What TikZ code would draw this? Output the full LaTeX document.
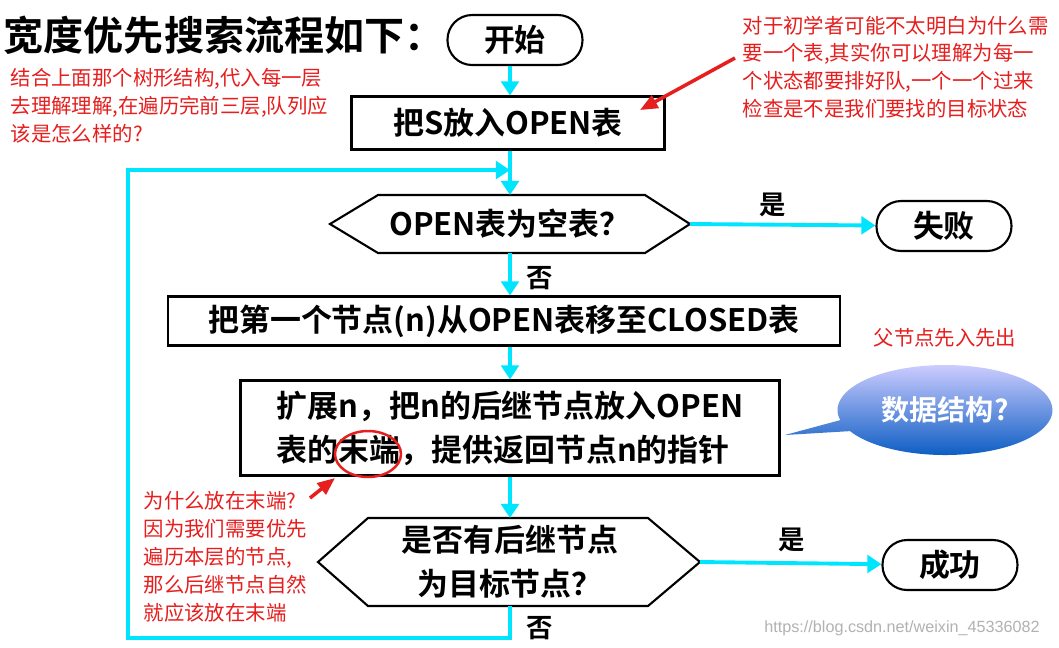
\documentclass[tikz,border=0pt]{standalone}
\usepackage{fontspec}
\setmainfont{Liberation Sans}
\newfontfamily\cjk{Noto Sans CJK SC}
\newfontfamily\cjkb{Noto Sans CJK SC Bold}
\usetikzlibrary{arrows.meta, positioning, shapes.geometric, shapes.callouts, shadings}
\definecolor{flow}{RGB}{0,229,255}
\definecolor{note}{RGB}{230,30,30}
\tikzset{
  stepbox/.style={draw, line width=0.6pt, inner sep=0pt, font=\cjkb\fontsize{8.8}{10}\selectfont},
  endbox/.style={stepbox, rounded corners=7pt, minimum width=135*0.01cm, minimum height=50*0.01cm},
  flowline/.style={draw=flow, line width=1.1pt},
  flowarrow/.style={flowline, -{Triangle[length=4pt,width=5pt]}},
  notetext/.style={text=note, font=\cjk\fontsize{5.8}{7.9}\selectfont, align=left, anchor=north west, inner sep=0pt},
  yesno/.style={font=\cjkb\fontsize{7.5}{8}\selectfont}
}
\begin{document}
\begin{tikzpicture}[x=0.01cm, y=-0.01cm, >=Latex]
    \useasboundingbox[fill=white] (0,0) rectangle (1059,647);

    % title
    \node[anchor=west, inner sep=0pt, font=\cjkb\fontsize{11.4}{12}\selectfont] (title) at (3,35) {宽度优先搜索流程如下：};

    % boxes
    \node[endbox] (start) at (515,40) {开始};
    \node[stepbox, minimum width=313*0.01cm, minimum height=53*0.01cm] (put) at (508,123) {把S放入OPEN表};
    \draw[line width=0.6pt] (330,224) -- (378,195) -- (645,195) -- (690,224) -- (645,253) -- (378,253) -- cycle;
    \node[font=\cjkb\fontsize{8.8}{10}\selectfont] (empty) at (510,224) {OPEN表为空表？};
    \node[endbox] (fail) at (944,226) {失败};
    \node[stepbox, minimum width=672*0.01cm, minimum height=49*0.01cm] (move) at (504,321) {把第一个节点(n)从OPEN表移至CLOSED表};
    \node[stepbox, minimum width=539*0.01cm, minimum height=95*0.01cm, align=left, font=\cjkb\fontsize{8.8}{12.5}\selectfont] (expand) at (510,428) {扩展n，把n的后继节点放入OPEN\\表的末端，提供返回节点n的指针};
    \draw[line width=0.6pt] (318,562) -- (368,518) -- (648,518) -- (700,562) -- (648,606) -- (368,606) -- cycle;
    \node[align=center, font=\cjkb\fontsize{8.8}{12.5}\selectfont] (goal) at (510,562) {是否有后继节点\\为目标节点？};
    \node[endbox] (succ) at (950,565) {成功};

    % connectors
    \coordinate (emptytop) at (510,195);
    \coordinate (emptybot) at (510,253);
    \coordinate (emptyright) at (690,224);
    \coordinate (goaltop) at (510,518);
    \coordinate (goalbot) at (510,606);
    \coordinate (goalright) at (700,562);
    \coordinate (loopin) at (510,170);
    \draw[flowarrow] (emptytop |- start.south) -- (emptytop |- put.north);
    \draw[flowarrow] (emptytop |- put.south) -- (emptytop);
    \draw[flowarrow] (emptyright) -- (fail);
    \draw[flowarrow] (emptybot) -- (emptybot |- move.north);
    \draw[flowarrow] (emptybot |- move.south) -- (emptybot |- expand.north);
    \draw[flowarrow] (goaltop |- expand.south) -- (goaltop);
    \draw[flowarrow] (goalright) -- (succ);
    \draw[flowarrow] (goalbot) -- (510,638) -- (128,638) -- (128,170) -- (loopin);
    \node[yesno] (yes1) at (773,205) {是};
    \node[yesno] (no1) at (540,278) {否};
    \node[yesno] (yes2) at (792,540) {是};
    \node[yesno] (no2) at (540,628) {否};

    % notes
    \node[notetext] (note1) at (10,68) {结合上面那个树形结构,代入每一层\\去理解理解,在遍历完前三层,队列应\\该是怎么样的?};
    \node[notetext] (note2) at (742,15) {对于初学者可能不太明白为什么需\\要一个表,其实你可以理解为每一\\个状态都要排好队,一个一个过来\\检查是不是我们要找的目标状态};
    \node[notetext] (note3) at (143,491) {为什么放在末端?\\因为我们需要优先\\遍历本层的节点,\\那么后继节点自然\\就应该放在末端};
    \node[text=note, font=\cjk\fontsize{5.8}{6}\selectfont] (fifo) at (945,338) {父节点先入先出};
    \coordinate (arr2) at (640,110);
    \coordinate (arr3) at (335,478);
    \draw[note, line width=1pt, -{Triangle[length=5pt,width=4pt]}] (735,58) -- (arr2);
    \draw[note, line width=1pt, -{Triangle[length=5pt,width=4pt]}] (310,498) -- (arr3);
    \draw[note, line width=0.7pt] (368,454) ellipse (33 and 23);

    % callout
    \node[ellipse callout, callout absolute pointer={(785,435)}, minimum width=215*0.01cm, minimum height=90*0.01cm,
          top color=blue!20!white, bottom color=blue!55!cyan!75!black, text=white,
          font=\cjkb\fontsize{8}{8}\selectfont] (ds) at (945,410) {数据结构?};

    % watermark
    \node[anchor=east, text=gray!60, font=\fontsize{4.6}{5}\selectfont] (mark) at (1052,628) {https://blog.csdn.net/weixin\_45336082};
\end{tikzpicture}
\end{document}
